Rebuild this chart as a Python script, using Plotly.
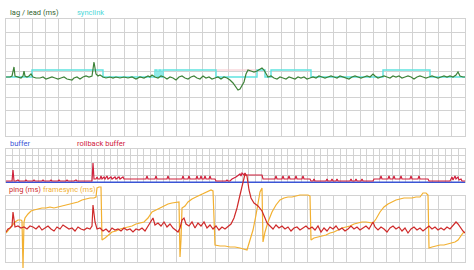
import plotly.graph_objects as go

W, H = 474, 270

# ---------------- data ----------------
# lag / lead (ms)
lag_t = [6,10,12,14,15,18,21,23,24,25,27,29,31,33,36,40,43,46,49,52,55,58,61,64,67,70,72,74,77,80,83,86,89,92,94,96,98,100,103,106,110,113,116,120,124,128,132,136,140,144,148,150,152,155,158,161,164,167,170,173,176,179,182,185,188,191,194,197,200,203,206,209,212,215,218,221,224,227,230,233,236,238,240,242,244,246,248,251,254,257,260,262,264,266,268,271,274,277,280,283,286,289,292,295,298,301,304,307,310,313,316,319,322,325,328,331,334,337,340,343,346,349,352,355,358,361,364,367,370,373,375,378,381,384,387,390,393,396,399,402,405,408,411,414,417,420,423,426,429,432,435,438,441,444,447,450,453,456,458,460,463,465]
lag = [0,0,1,10,1,0,-1,1,6,1,0,1,3,0,-1,-1,0,-2,-1,0,-1,-2,-1,0,-2,-3,-3,-1,0,-2,0,1,0,1,15,3,1,2,0,-1,0,-1,0,-1,0,-1,0,-2,0,-1,1,0,2,0,-1,1,0,-2,0,-1,-3,0,1,-1,-2,0,1,-1,-2,1,-1,0,-2,-1,0,-2,0,-1,-3,-6,-11,-13,-12,-9,-5,3,7,6,5,6,8,9,7,3,0,1,-1,-2,0,-1,-2,0,-1,-2,0,-1,0,-2,-1,0,-1,1,0,-1,0,1,0,-1,1,0,-1,-2,0,1,0,-1,0,1,0,3,1,-1,0,1,0,-1,1,0,1,-1,0,1,0,-2,0,1,0,-1,0,1,0,-1,0,1,0,1,0,2,5,1,0,0]

# synclink state (ms)
sync_t = [6,32,32,103,103,155,155,157,157,159,159,161,161,163,163,216,216,257,257,265,265,271,271,311,311,383,383,430,430,465]
sync = [0,0,7,7,0,0,7,7,0,0,7,7,0,0,7,7,0,0,7,7,0,0,7,7,0,0,7,7,0,0]
# synclink target while link is down
sync_off_t = [216, 257]
sync_off = [7, 7]

# buffer
buf_t = [6, 465]
buf = [-0.3, -0.3]

# rollback buffer
rb_t = [6,12,13,14,16,18,19,25,26,27,33,34,35,42,43,44,50,51,52,58,59,60,66,67,68,74,76,77,88,92,93,94,96,97,98,100,101,102,104,105,107,108,111,112,115,116,119,120,123,124,140,146,147,148,155,156,157,167,168,169,182,183,184,188,189,190,196,197,198,200,201,202,204,205,206,209,210,211,215,216,226,227,228,230,232,236,240,241,242,244,245,246,262,263,270,275,276,277,282,283,284,288,289,290,295,296,297,302,303,304,310,311,313,314,315,326,327,328,331,332,333,336,337,338,350,351,352,355,356,357,361,362,363,373,374,380,381,382,388,389,390,393,394,395,400,401,402,410,411,412,418,419,420,428,429,450,452,453,455,456,458,459,461,462,465]
rb = [1,1,12,1,1,2,1,1,2,1,1,2,1,1,2,1,1,2,1,1,2,1,1,2,1,1,2,1,1,1,19,3,3,5,3,3,6,3,5,3,6,3,5,3,5,3,5,3,5,3,3,3,6,3,3,6,3,3,6,3,3,6,3,3,6,3,3,6,3,3,6,3,3,6,3,3,6,3,3,1,1,2,1,1,3,5,8,6,9,7,9,7,7,3,3,3,6,3,3,6,3,3,6,3,3,6,3,3,6,3,3,1,1,3,1,1,3,1,1,3,1,1,3,1,1,3,1,1,3,1,1,3,1,1,3,3,6,3,3,6,3,3,6,3,3,6,3,3,6,3,3,6,3,3,1,1,5,2,6,3,5,2,3,1,1]

# ping (ms)
ping_t = [6,8,10,12,13,14,15,18,21,24,27,30,33,36,39,42,45,48,51,54,57,60,63,66,69,72,75,78,81,84,87,90,92,93,95,97,100,103,106,109,112,115,118,121,124,127,130,133,136,139,142,145,148,151,153,155,158,161,164,167,170,173,176,178,180,182,184,186,189,192,195,198,201,204,207,210,213,216,219,222,225,228,231,234,237,240,243,245,247,249,251,254,258,262,265,267,270,273,276,279,282,285,288,291,294,297,300,303,306,309,312,315,318,321,324,327,330,333,336,339,342,345,348,351,354,357,360,363,366,369,371,373,375,378,381,384,387,390,393,396,399,402,405,408,411,414,417,420,423,426,429,432,435,438,441,444,447,450,453,456,458,461,463,465]
ping = [30,33,34,36,50,40,35,36,34,35,33,36,35,33,36,32,34,36,33,31,35,33,37,35,33,34,31,35,33,32,34,33,36,57,40,33,34,31,33,30,34,32,33,31,34,32,33,30,33,32,34,31,36,41,44,37,39,36,40,35,38,34,32,30,34,42,44,38,36,40,34,39,36,40,34,37,33,36,32,35,33,36,38,44,54,67,80,88,86,72,64,59,56,51,44,39,36,33,37,34,36,33,35,31,34,35,32,34,36,33,35,32,36,30,34,31,35,33,36,32,34,31,33,36,33,35,32,34,36,33,37,40,35,32,35,33,30,34,36,33,35,31,34,29,33,35,32,34,31,34,36,33,35,32,34,32,35,33,36,40,38,33,31,29]

# framesync (ms)
fs_t = [6,9,12,15,18,21,22,23,24,25,28,31,34,38,42,46,50,54,58,62,66,70,74,78,82,86,90,94,96,97,99,101,102,105,108,112,116,120,124,128,132,136,140,144,148,152,156,160,164,168,172,176,179,180,181,182,185,188,192,196,200,204,208,211,213,215,220,225,230,235,240,245,247,250,253,256,258,260,262,263,265,268,272,276,280,284,288,292,296,300,304,308,310,311,314,318,322,326,330,334,338,342,346,350,354,358,362,366,370,373,376,380,384,388,392,396,400,404,408,412,416,420,423,426,428,429,432,436,440,444,448,452,455,458,461,463,465]
fs = [29,33,36,40,42,42,41,-6,40,44,48,51,52,53,54,54,55,54,55,56,57,58,59,60,62,63,64,64,65,74,75,75,22,24,27,30,31,33,34,35,36,38,39,40,44,50,52,54,56,58,59,60,60,5,22,54,56,60,63,65,67,69,71,72,71,17,16,16,15,15,14,13,12,22,32,47,59,70,74,20,30,40,50,57,62,64,65,65,66,67,67,67,66,22,24,25,26,27,29,30,32,34,35,36,38,39,40,40,39,39,43,50,55,58,60,62,63,64,64,64,65,65,69,69,67,14,15,16,17,17,18,19,20,22,26,29,30]

# ---------------- geometry (pixels) ----------------
X0, X1 = 6, 465
T0, T1 = 6, 465
NCOL = 35
panels = {
    # name: (grid_top_px, grid_bot_px, vmin, vmax, nrows, data_top_px, data_bot_px, col_div)
    "top": (19, 136, -59, 58, 9, 14, 142, 1),
    "mid": (149, 182, 0, 33, 5, 140, 188, 2),
    "bot": (196, 262, 0, 66, 5, 150, 270, 1),
}

def pdom(top_px, bot_px):
    return [1 - bot_px / H, 1 - top_px / H]

fig = go.Figure()
layout = dict(
    width=W, height=H, margin=dict(l=0, r=0, t=0, b=0),
    paper_bgcolor="white", plot_bgcolor="rgba(0,0,0,0)",
    showlegend=False, font=dict(family="Roboto", size=7),
)
GRID = "#d2d2d2"
xdom = [X0 / W, X1 / W]
for i, (name, (gt, gb, vmin, vmax, nrows, dt, db, cdiv)) in enumerate(panels.items()):
    gi = i + 1
    di = i + 4
    layout[f"xaxis{gi}"] = dict(domain=xdom, range=[T0, T1], anchor=f"y{gi}",
                                showticklabels=False, ticks="", zeroline=False,
                                showgrid=True, gridcolor=GRID, gridwidth=1,
                                tick0=T0, dtick=(T1 - T0) / (NCOL * cdiv),
                                showline=True, mirror=True, linecolor=GRID, linewidth=1)
    layout[f"yaxis{gi}"] = dict(domain=pdom(gt, gb), range=[vmin, vmax], anchor=f"x{gi}",
                                showticklabels=False, ticks="", zeroline=False,
                                showgrid=True, gridcolor=GRID, gridwidth=1,
                                tick0=vmin, dtick=(vmax - vmin) / nrows,
                                showline=True, mirror=True, linecolor=GRID, linewidth=1)
    per_px = (vmax - vmin) / (gb - gt)
    layout[f"xaxis{di}"] = dict(domain=xdom, range=[T0, T1], anchor=f"y{di}", visible=False)
    layout[f"yaxis{di}"] = dict(domain=pdom(dt, db),
                                range=[vmin - (db - gb) * per_px, vmax + (gt - dt) * per_px],
                                anchor=f"x{di}", visible=False)
    fig.add_trace(go.Scatter(x=[], y=[], xaxis=f"x{gi}" if gi > 1 else "x",
                             yaxis=f"y{gi}" if gi > 1 else "y", hoverinfo="skip"))

def line(t, v, color, ax, width=1.2):
    fig.add_trace(go.Scatter(x=t, y=v, mode="lines", xaxis=f"x{ax}", yaxis=f"y{ax}",
                             line=dict(color=color, width=width), hoverinfo="skip"))

line(sync_off_t, sync_off, "#f4c2c8", 4, 1.0)
line(sync_t, sync, "#5fe3e0", 4, 1.4)
line(lag_t, lag, "#3d8238", 4, 1.2)
line(buf_t, buf, "#3a55d6", 5, 1.4)
line(rb_t, rb, "#d0213c", 5, 1.2)
line(fs_t, fs, "#f2b030", 6, 1.2)
line(ping_t, ping, "#cf2a2a", 6, 1.2)

labels = [
    ("lag / lead (ms)", 8, 12.5, "#35652f"),
    ("synclink", 75, 12.5, "#4fd8d8"),
    ("buffer", 8, 143, "#3a55d6"),
    ("rollback buffer", 75, 143, "#d0213c"),
    ("ping (ms)", 7, 189.5, "#cf2a2a"),
    ("framesync (ms)", 41, 189.5, "#f2b030"),
]
anns = []
for txt, x, y, c in labels:
    anns.append(dict(text=txt, x=x / W, y=1 - y / H, xref="paper", yref="paper",
                     xanchor="left", yanchor="middle", showarrow=False,
                     font=dict(color=c, size=7.5, family="Roboto")))
layout["annotations"] = anns
fig.update_layout(**layout)
fig.write_html("out.html")
